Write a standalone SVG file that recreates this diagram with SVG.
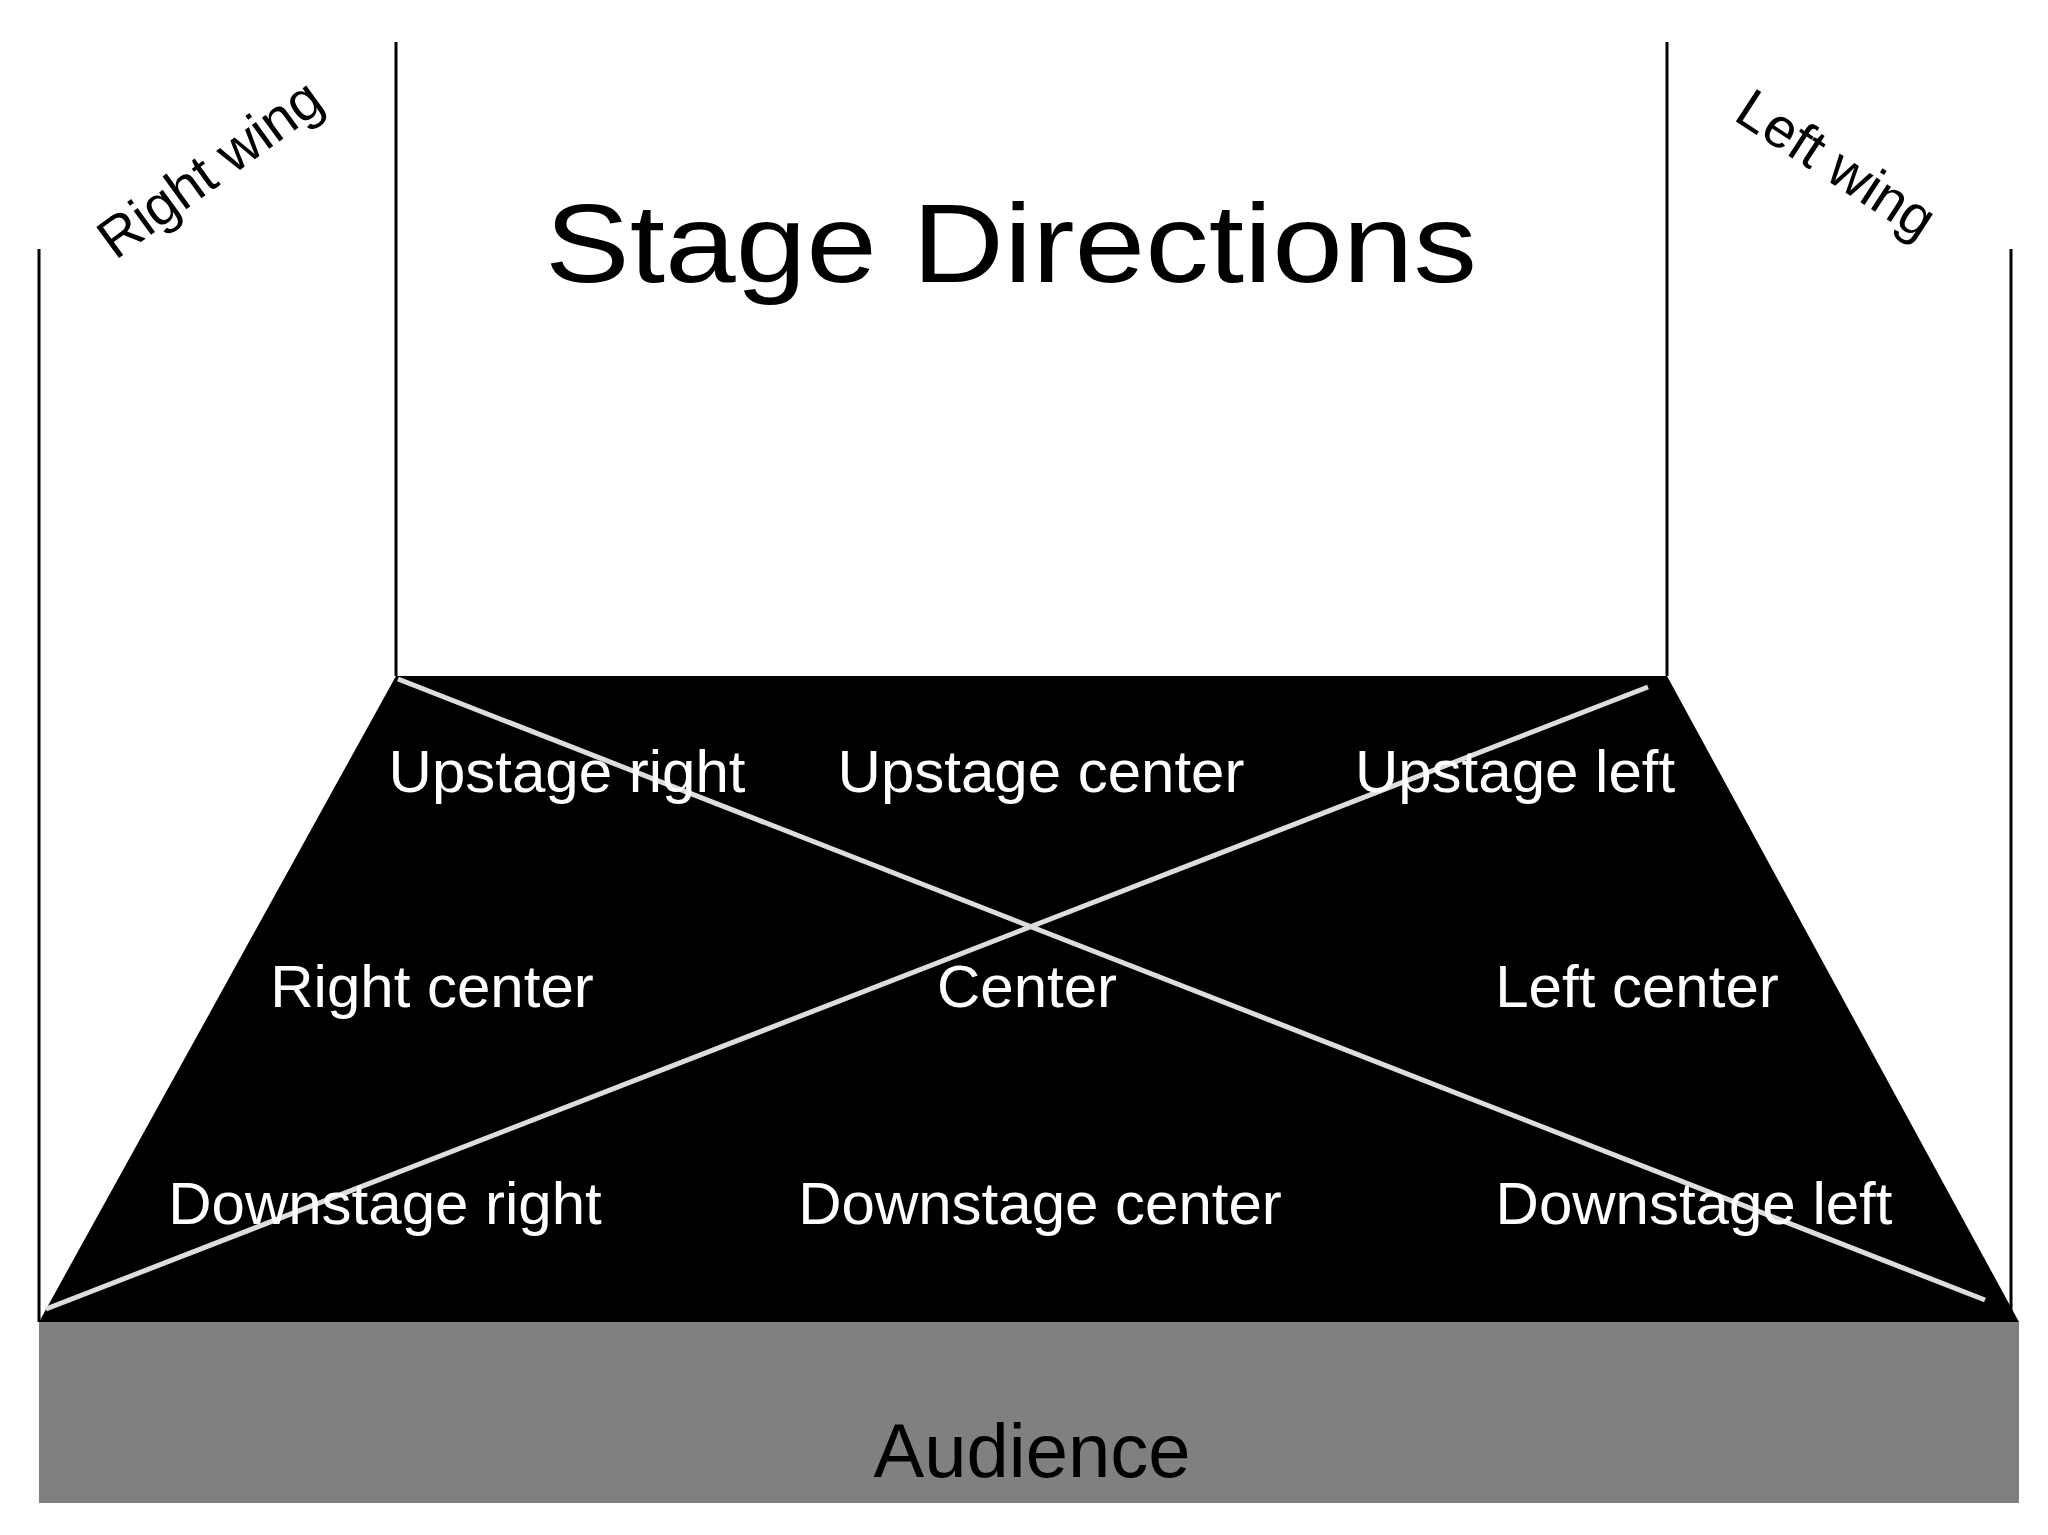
<svg xmlns="http://www.w3.org/2000/svg" width="2048" height="1535" viewBox="0 0 2048 1535">
<style>
.w{stroke:#000;stroke-width:3;fill:none}
.lbl{font-family:"Liberation Sans",Arial,sans-serif;font-size:60px;fill:#fff;text-anchor:middle}
.blk{font-family:"Liberation Sans",Arial,sans-serif;fill:#000;text-anchor:middle}
.diag{stroke:#ddd;stroke-width:5}
</style>
<rect width="2048" height="1535" fill="#fff"/>
<g id="walls">
<line class="w" x1="39" y1="249" x2="39" y2="1322"/>
<line class="w" x1="396" y1="42" x2="396" y2="676"/>
<line class="w" x1="1667" y1="42" x2="1667" y2="676"/>
<line class="w" x1="2011" y1="249" x2="2011" y2="1322"/>
</g>
<g id="stage"><polygon points="396,676 1667,676 2019,1322 39,1322" fill="#000"/></g>
<g id="audience">
<rect x="39" y="1322" width="1980" height="181" fill="#808080"/>
<text class="blk" x="1032" y="1477" font-size="76" fill="#111">Audience</text>
</g>
<g id="connectors">
<line class="diag" x1="398" y1="679" x2="1985" y2="1300"/>
<line class="diag" x1="1648" y1="687" x2="46" y2="1309"/>
</g>
<g id="title"><text class="blk" x="1011" y="282" font-size="112" textLength="932" lengthAdjust="spacingAndGlyphs">Stage Directions</text></g>
<g id="rightwing"><text class="blk" font-size="56" transform="translate(221,184) rotate(-36)">Right wing</text></g>
<g id="leftwing"><text class="blk" font-size="56" transform="translate(1826,180) rotate(33)">Left wing</text></g>
<g id="labels">
<text class="lbl" x="567" y="792">Upstage right</text>
<text class="lbl" x="1041" y="792">Upstage center</text>
<text class="lbl" x="1515" y="792">Upstage left</text>
<text class="lbl" x="432" y="1007">Right center</text>
<text class="lbl" x="1027" y="1007">Center</text>
<text class="lbl" x="1637" y="1007">Left center</text>
<text class="lbl" x="385" y="1224">Downstage right</text>
<text class="lbl" x="1040" y="1224">Downstage center</text>
<text class="lbl" x="1694" y="1224">Downstage left</text>
</g>
</svg>
